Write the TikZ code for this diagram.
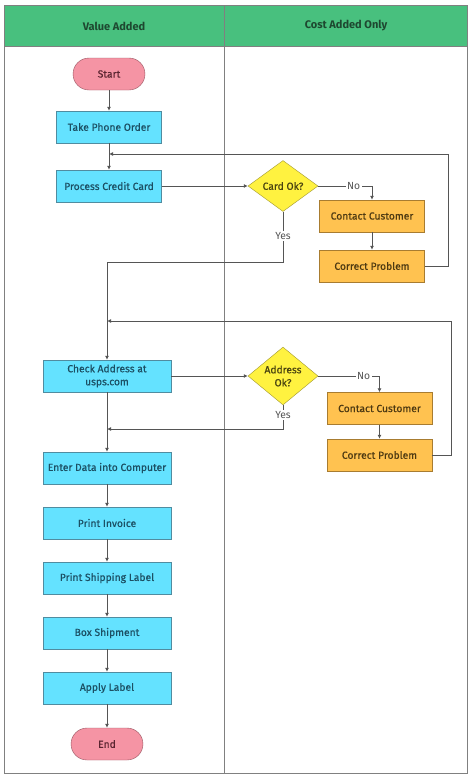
\documentclass[tikz,border=0pt]{standalone}
\usepackage{fontspec}
\setmainfont{Fira Sans}
\newfontfamily\medfont[FakeBold=0.5]{Fira Sans}
\usepackage{xcolor}
\usepackage{tikz}
\usetikzlibrary{shapes.geometric, arrows.meta, positioning}
\definecolor{headgreen}{RGB}{72,192,126}
\definecolor{headtext}{RGB}{30,72,48}
\definecolor{tablegray}{RGB}{128,128,128}
\definecolor{linegray}{RGB}{85,85,85}
\definecolor{cyanfill}{RGB}{100,226,255}
\definecolor{cyanline}{RGB}{80,140,160}
\definecolor{cyantext}{RGB}{28,80,100}
\definecolor{pinkfill}{RGB}{245,148,164}
\definecolor{pinkline}{RGB}{150,84,96}
\definecolor{pinktext}{RGB}{90,36,48}
\definecolor{yellowfill}{RGB}{255,242,64}
\definecolor{yellowline}{RGB}{160,150,48}
\definecolor{yellowtext}{RGB}{74,68,16}
\definecolor{orangefill}{RGB}{255,194,80}
\definecolor{orangeline}{RGB}{168,124,48}
\definecolor{orangetext}{RGB}{78,58,18}
\tikzset{
x=1pt, y=-1pt, % one unit is one pixel of the sheet, y runs downwards
flow/.style={draw=linegray, line width=0.8pt, -{Latex[length=4pt,width=4pt]}}, % connectors
terminal/.style={draw=pinkline, fill=pinkfill, text=pinktext, rounded corners=16pt, minimum width=72pt, minimum height=32pt},
process/.style={draw=cyanline, fill=cyanfill, text=cyantext, minimum width=105pt, minimum height=32pt, inner sep=0pt, align=center},
wide/.style={minimum width=128pt}, % the wider boxes of the lower part
decision/.style={diamond, draw=yellowline, fill=yellowfill, text=yellowtext, minimum width=70pt, minimum height=51pt, inner sep=0pt, align=center},
fixit/.style={draw=orangeline, fill=orangefill, text=orangetext, minimum width=105pt, minimum height=32pt, inner sep=0pt},
lbl/.style={fill=white, inner sep=1.5pt, text=linegray, font=\fontsize{10.3}{12.5}\selectfont},
every node/.style={font=\medfont\fontsize{10.3}{13}\selectfont},
}
\begin{document}
\begin{tikzpicture}
        \useasboundingbox (0,0) rectangle (474,780);
        % the table with its two lanes
        \fill[headgreen] (4,5) rectangle (467,46);
        \draw[tablegray, line width=1pt] (4,5) rectangle (467,773);
        \draw[tablegray, line width=1pt] (4,46) -- (467,46);
        \draw[tablegray, line width=1pt] (224,5) -- (224,773);
        \node[text=headtext, font=\fontsize{11}{13}\selectfont\bfseries] (lane1) at (114,26) {Value Added};
        \node[text=headtext, font=\fontsize{11}{13}\selectfont\bfseries] (lane2) at (346,26) {Cost Added Only};

        % upper part
        \node[terminal] (start) at (109,74) {Start};
        \node[process, below of=start, node distance=53pt] (phone) {Take Phone Order};
        \node[process, below of=phone, node distance=59pt] (credit) {Process Credit Card};
        \node[decision] (cardok) at (283,186) {Card Ok?};
        \node[fixit] (contact1) at (372,216) {Contact Customer};
        \node[fixit, below of=contact1, node distance=50pt] (correct1) {Correct Problem};

        % lower part
        \node[process, wide] (address) at (107,376) {Check Address at\\usps.com};
        \node[decision] (addrok) at (283,376) {Address\\Ok?};
        \node[fixit] (contact2) at (379.5,408.5) {Contact Customer};
        \node[fixit, below of=contact2, node distance=46.5pt] (correct2) {Correct Problem};
        \node[process, wide, below of=address, node distance=92pt] (enter) {Enter Data into Computer};
        \node[process, wide, below of=enter, node distance=55pt] (invoice) {Print Invoice};
        \node[process, wide, below of=invoice, node distance=55pt] (shiplabel) {Print Shipping Label};
        \node[process, wide, below of=shiplabel, node distance=55pt] (boxship) {Box Shipment};
        \node[process, wide, below of=boxship, node distance=55pt] (apply) {Apply Label};
        \node[terminal, below of=apply, node distance=56pt] (end) {End};

        % points where the loops come back
        \coordinate (join1) at (109,154);
        \coordinate (ret1) at (448,154);
        \coordinate (yes1) at (107,262);
        \coordinate (join2) at (107,321);
        \coordinate (ret2) at (451,321);
        \coordinate (join3) at (107,429);

        \draw[flow] (start) -- (phone);
        \draw[flow] (phone) -- (credit);
        \draw[flow] (credit) -- (cardok);
        \draw[flow] (cardok.east) -| node[lbl, pos=0.33] {No} (contact1.north);
        \draw[flow] (contact1) -- (correct1);
        \draw[flow] (correct1.east) -| (ret1) -- (join1);
        \draw[flow] (cardok.south) |- node[lbl, pos=0.24] {Yes} (yes1) -- (address.north);

        \draw[flow] (address) -- (addrok);
        \draw[flow] (addrok.east) -| node[lbl, pos=0.37] {No} (contact2.north);
        \draw[flow] (contact2) -- (correct2);
        \draw[flow] (correct2.east) -| (ret2) -- (join2);
        \draw[flow] (addrok.south) |- node[lbl, pos=0.2] {Yes} (join3);
        \draw[flow] (address) -- (enter);
        \draw[flow] (enter) -- (invoice);
        \draw[flow] (invoice) -- (shiplabel);
        \draw[flow] (shiplabel) -- (boxship);
        \draw[flow] (boxship) -- (apply);
        \draw[flow] (apply) -- (end);
\end{tikzpicture}
\end{document}
